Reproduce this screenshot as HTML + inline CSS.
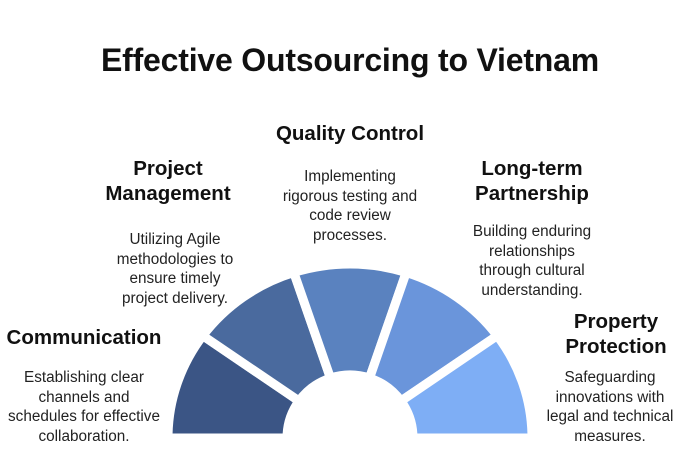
<!DOCTYPE html>
<html><head><style>
body{margin:0;width:700px;height:467px;background:#fff;font-family:"Liberation Sans",sans-serif;color:#111;position:relative;overflow:hidden}
.t{position:absolute;text-align:center;white-space:nowrap}
h1{position:absolute;left:0;width:700px;top:42px;margin:0;text-align:center;font-size:32px;font-weight:bold;letter-spacing:-0.2px}
.h{font-weight:bold;font-size:20.5px;line-height:25px}
.b{font-size:15.3px;line-height:19.5px;color:#222}
</style></head><body>
<h1>Effective Outsourcing to Vietnam</h1>
<svg width="700" height="467" style="position:absolute;left:0;top:0">
<defs><clipPath id="c"><rect x="0" y="0" width="700" height="434"/></clipPath></defs>
<g stroke="#fff" stroke-width="9" stroke-linejoin="miter" id="g" clip-path="url(#c)"></g>
</svg>
<div class="t h" style="left:250px;width:200px;top:121px">Quality Control</div>
<div class="t b" style="left:250px;width:200px;top:167px">Implementing<br>rigorous testing and<br>code review<br>processes.</div>
<div class="t h" style="left:68px;width:200px;top:156px">Project<br>Management</div>
<div class="t b" style="left:75px;width:200px;top:230px">Utilizing Agile<br>methodologies to<br>ensure timely<br>project delivery.</div>
<div class="t h" style="left:432px;width:200px;top:156px">Long-term<br>Partnership</div>
<div class="t b" style="left:432px;width:200px;top:222px">Building enduring<br>relationships<br>through cultural<br>understanding.</div>
<div class="t h" style="left:-16px;width:200px;top:325px">Communication</div>
<div class="t b" style="left:-16px;width:200px;top:368px">Establishing clear<br>channels and<br>schedules for effective<br>collaboration.</div>
<div class="t h" style="left:516px;width:200px;top:309px">Property<br>Protection</div>
<div class="t b" style="left:510px;width:200px;top:368px">Safeguarding<br>innovations with<br>legal and technical<br>measures.</div>
<script>
var cx=350,cy=438,R=182,Ry=174,r=63,cols=["#3b5585","#4a6a9e","#5a82bf","#6a95db","#7eaef5"],g=document.getElementById('g'),s="";
function P(rx,ry,a){return (cx+rx*Math.cos(a)).toFixed(1)+","+(cy-ry*Math.sin(a)).toFixed(1)}
for(var i=0;i<5;i++){var a0=Math.PI-i*Math.PI/5,a1=Math.PI-(i+1)*Math.PI/5;
s+='<path fill="'+cols[i]+'" d="M'+P(r,r,a0)+' L'+P(R,Ry,a0)+' A'+R+' '+Ry+' 0 0 1 '+P(R,Ry,a1)+' L'+P(r,r,a1)+' A'+r+' '+r+' 0 0 0 '+P(r,r,a0)+'Z"/>';}
g.innerHTML=s;
</script>
</body></html>
